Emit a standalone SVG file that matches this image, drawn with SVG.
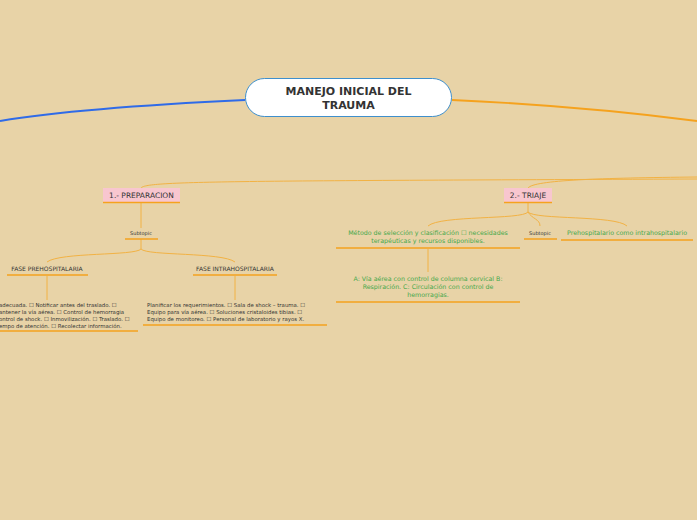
<svg xmlns="http://www.w3.org/2000/svg" width="697" height="520" viewBox="0 0 697 520">
<style>
.bg{fill:#E8D3A7}
.thin{fill:none;stroke:#F2B244;stroke-width:1}
.ul{stroke:#F5A21E;stroke-width:1.6}
.t{font-family:"DejaVu Sans",Verdana,sans-serif;fill:#333}
.g{font-family:"DejaVu Sans",Verdana,sans-serif;fill:#45A84B}
.pink{fill:#F8C6CF}
</style>
<rect class="bg" x="0" y="0" width="697" height="520"/>
<g id="connectors">
<path d="M245,100 C160,104 60,111 0,121" fill="none" stroke="#2F6BE8" stroke-width="1.8"/>
<path d="M452,100 C540,104 620,111 697,121" fill="none" stroke="#F5A21E" stroke-width="1.8"/>
<path class="thin" d="M141,188 C146,181 220,181 697,179"/>
<path class="thin" d="M528,188 C534,180 600,178 697,177"/>
<path class="thin" d="M141,203 L141,228"/>
<path class="thin" d="M141,239 L141,249 C135,256 60,252 47,262"/>
<path class="thin" d="M141,249 C147,256 222,252 235,262"/>
<path class="thin" d="M47,276 L47,300"/>
<path class="thin" d="M235,276 L235,300"/>
<path class="thin" d="M528,203 L528,212 C522,220 440,215 428,226"/>
<path class="thin" d="M528,212 C532,219 540,219 540,226"/>
<path class="thin" d="M528,212 C535,220 615,215 627,226"/>
<path class="thin" d="M428,249 L428,272"/>
</g>
<g id="root">
<rect x="245.5" y="78.5" width="206" height="38" rx="19" fill="#fff" stroke="#3F8FCC" stroke-width="1"/>
<text class="t" x="348.5" y="95" font-size="11" font-weight="bold" text-anchor="middle" fill="#000">MANEJO INICIAL DEL</text>
<text class="t" x="348.5" y="109" font-size="11" font-weight="bold" text-anchor="middle" fill="#000">TRAUMA</text>
</g>
<g id="preparacion">
<rect class="pink" x="103" y="188" width="77" height="14"/>
<line class="ul" x1="103" y1="202.5" x2="180" y2="202.5"/>
<text class="t" x="141.5" y="198" font-size="7.5" text-anchor="middle">1.- PREPARACION</text>
</g>
<g id="subtopic1">
<text class="t" x="141" y="235" font-size="5" text-anchor="middle">Subtopic</text>
<line class="ul" x1="125" y1="239" x2="158" y2="239"/>
</g>
<g id="fase-pre">
<text class="t" x="47" y="271" font-size="6" text-anchor="middle">FASE PREHOSPITALARIA</text>
<line class="ul" x1="7" y1="275" x2="88" y2="275"/>
</g>
<g id="fase-intra">
<text class="t" x="235" y="271" font-size="6" text-anchor="middle">FASE INTRAHOSPITALARIA</text>
<line class="ul" x1="193" y1="275" x2="277" y2="275"/>
</g>
<g id="pre-detalle">
<text class="t" font-size="5.4" x="-1" y="307">adecuada. ☐ Notificar antes del traslado. ☐</text>
<text class="t" font-size="5.4" x="-1" y="314">antener la vía aérea. ☐ Control de hemorragia</text>
<text class="t" font-size="5.4" x="-1" y="321">ontrol de shock. ☐ Inmovilización. ☐ Traslado. ☐</text>
<text class="t" font-size="5.4" x="-1" y="328">empo de atención. ☐ Recolectar información.</text>
<line class="ul" x1="0" y1="331" x2="138" y2="331"/>
</g>
<g id="intra-detalle">
<text class="t" font-size="5.4" x="147" y="307">Planificar los requerimientos. ☐ Sala de shock – trauma. ☐</text>
<text class="t" font-size="5.4" x="147" y="314">Equipo para vía aérea. ☐ Soluciones cristaloides tibias. ☐</text>
<text class="t" font-size="5.4" x="147" y="321">Equipo de monitoreo. ☐ Personal de laboratorio y rayos X.</text>
<line class="ul" x1="143" y1="325" x2="327" y2="325"/>
</g>
<g id="triaje">
<rect class="pink" x="504" y="188" width="48" height="14"/>
<line class="ul" x1="504" y1="202.5" x2="552" y2="202.5"/>
<text class="t" x="528" y="198" font-size="7.5" text-anchor="middle" fill="#E0585A">2.- TRIAJE</text>
</g>
<g id="metodo">
<text class="g" font-size="6.3" x="428" y="235" text-anchor="middle">Método de selección y clasificación ☐ necesidades</text>
<text class="g" font-size="6.3" x="428" y="243" text-anchor="middle">terapéuticas y recursos disponibles.</text>
<line class="ul" x1="336" y1="248" x2="520" y2="248"/>
</g>
<g id="abc">
<text class="g" font-size="6.3" x="428" y="281" text-anchor="middle">A: Vía aérea con control de columna cervical B:</text>
<text class="g" font-size="6.3" x="428" y="289" text-anchor="middle">Respiración. C: Circulación con control de</text>
<text class="g" font-size="6.3" x="428" y="297" text-anchor="middle">hemorragias.</text>
<line class="ul" x1="336" y1="302" x2="520" y2="302"/>
</g>
<g id="subtopic2">
<text class="t" x="540" y="235" font-size="5" text-anchor="middle">Subtopic</text>
<line class="ul" x1="524" y1="239" x2="557" y2="239"/>
</g>
<g id="prehospitalario">
<text class="g" font-size="6.3" x="627" y="235" text-anchor="middle">Prehospitalario como intrahospitalario</text>
<line class="ul" x1="561" y1="240" x2="693" y2="240"/>
</g>
</svg>
